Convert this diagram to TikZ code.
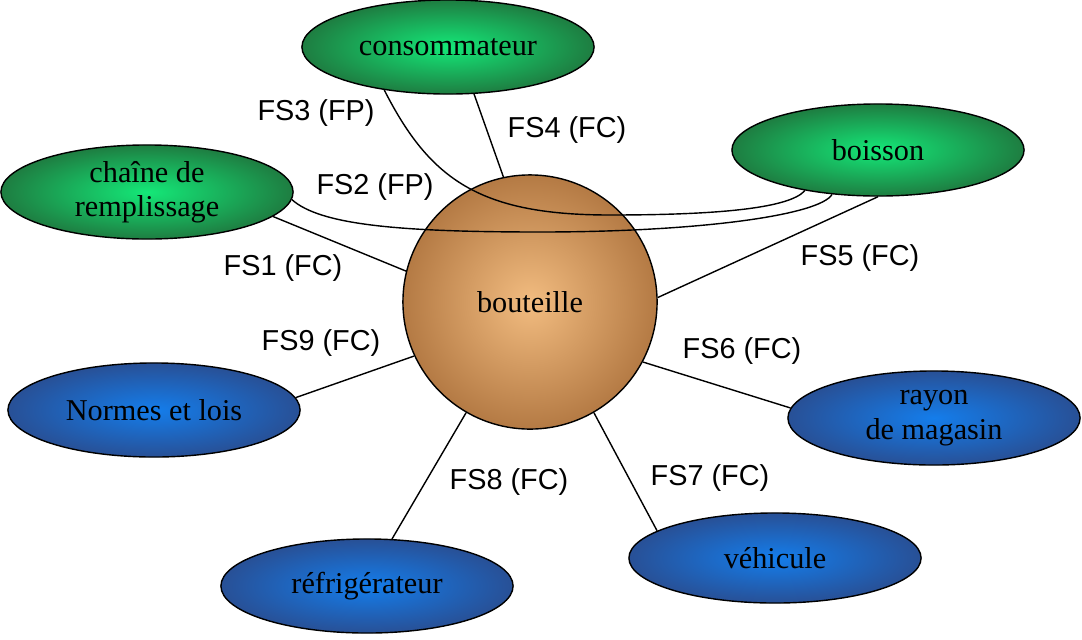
\documentclass[tikz,border=0pt]{standalone}
\usepackage{fontspec}
\setmainfont{Liberation Serif}
\newfontfamily\lab{Liberation Sans}
\usetikzlibrary{shapes.geometric}
\definecolor{gin}{RGB}{20,232,120}
\definecolor{gout}{RGB}{30,125,65}
\definecolor{bin}{RGB}{20,125,235}
\definecolor{bout}{RGB}{40,80,150}
\definecolor{cin}{RGB}{242,188,128}
\definecolor{cout}{RGB}{180,122,68}
\begin{document}
\begin{tikzpicture}[x=0.01cm,y=-0.01cm,
  el/.style={ellipse,draw=black,line width=0.4pt,minimum width=2.92cm,minimum height=0.94cm,inner sep=0pt,align=center,font=\fontsize{8.6}{9.8}\selectfont},
  gr/.style={el,inner color=gin,outer color=gout},
  bl/.style={el,inner color=bin,outer color=bout},
  lk/.style={line width=0.4pt},
  fs/.style={font=\lab\fontsize{8.2}{9.5}\selectfont}]
\useasboundingbox (0,0) rectangle (1082,639);
\node[circle,draw,minimum size=2.54cm,inner sep=0pt,inner color=cin,outer color=cout,font=\fontsize{8.6}{9.8}\selectfont] (c) at (530,302) {bouteille};
\node[gr] (cons) at (448,47) {consommateur};
\node[gr,minimum height=0.92cm] (bois) at (878,150) {boisson};
\node[gr] (ch) at (147,192) {chaîne de\\remplissage};
\node[bl] (nl) at (154,410) {Normes et lois};
\node[bl] (ray) at (934,418) {rayon\\de magasin};
\node[bl,minimum height=0.9cm] (veh) at (775,558) {véhicule};
\node[bl] (ref) at (367,586) {réfrigérateur};
\draw[lk] (ch.-11) -- (c.166);
\draw[lk] (cons.-61) -- (c.102);
\draw[lk] (bois.-90) -- (c.2);
\draw[lk] (ray.176) -- (c.-28);
\draw[lk] (veh.167) -- (c.-60);
\draw[lk] (ref.62) -- (c.-120);
\draw[lk] (nl.5) -- (c.-155);
\draw[lk] (cons.-146) .. controls (430,180) and (480,215) .. (610,215) .. controls (720,215) and (790,208) .. (bois.-151);
\draw[lk] (ch.-3) .. controls (320,225) and (400,232) .. (540,232) .. controls (700,232) and (820,215) .. (bois.-136);
\node[fs] (l3) at (316,113) {FS3 (FP)};
\node[fs] (l4) at (567,130) {FS4 (FC)};
\node[fs] (l2) at (375,187) {FS2 (FP)};
\node[fs] (l1) at (283,268) {FS1 (FC)};
\node[fs] (l5) at (860,258) {FS5 (FC)};
\node[fs] (l6) at (742,351) {FS6 (FC)};
\node[fs] (l9) at (321,343) {FS9 (FC)};
\node[fs] (l8) at (509,482) {FS8 (FC)};
\node[fs] (l7) at (710,478) {FS7 (FC)};
\end{tikzpicture}
\end{document}
